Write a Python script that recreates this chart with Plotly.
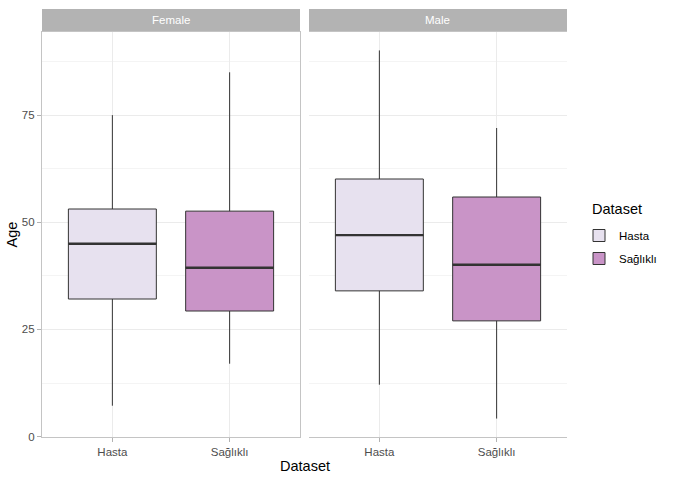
import plotly.graph_objects as go

# ---- data ----
groups = ["Hasta", "Sağlıklı"]
facets = ["Female", "Male"]
female_lower = [7.2, 17.0]
female_q1 = [32.1, 29.3]
female_median = [45.0, 39.4]
female_q3 = [53.1, 52.6]
female_upper = [75.0, 85.0]
male_lower = [12.1, 4.2]
male_q1 = [34.0, 27.0]
male_median = [47.0, 40.1]
male_q3 = [60.1, 55.9]
male_upper = [90.1, 72.0]
y_ticks = [0, 25, 50, 75]

colors = {"Hasta": "#E7E1EF", "Sağlıklı": "#C994C7"}
outline = "#333333"
FONT = "Liberation Sans, Arial, sans-serif"
BOXW = 0.75

facet_data = {
    "Female": (female_lower, female_q1, female_median, female_q3, female_upper),
    "Male": (male_lower, male_q1, male_median, male_q3, male_upper),
}

fig = go.Figure()
axes = [("x", "y"), ("x2", "y2")]
for fi, facet in enumerate(facets):
    lo, q1, med, q3, up = facet_data[facet]
    xa, ya = axes[fi]
    for gi, g in enumerate(groups):
        pos = gi + 1
        fig.add_trace(go.Box(
            x=[pos], q1=[q1[gi]], median=[med[gi]], q3=[q3[gi]],
            lowerfence=[lo[gi]], upperfence=[up[gi]],
            width=BOXW, whiskerwidth=0,
            fillcolor=colors[g], line=dict(color=outline, width=1),
            name=g, legendgroup=g, showlegend=(fi == 0),
            boxpoints=False, hoverinfo="skip",
            xaxis=xa, yaxis=ya,
        ))
        # thicker median line (ggplot fatten)
        fig.add_trace(go.Scatter(
            x=[pos - BOXW / 2, pos + BOXW / 2], y=[med[gi], med[gi]],
            mode="lines", line=dict(color=outline, width=2.4),
            showlegend=False, hoverinfo="skip", xaxis=xa, yaxis=ya,
        ))

W, H = 698, 482
ml, mr, mt, mb = 42, 131, 9, 45
pw = W - ml - mr
ph = H - mt - mb
strip_h = 23
ytop = 1 - strip_h / ph
gap = 9 / pw
d1 = [0, (1 - gap) / 2]
d2 = [(1 + gap) / 2, 1]

def px_y(py):
    """pixel row (from top) -> paper y"""
    return (H - mb - py) / ph

def px_x(px):
    return (px - ml) / pw

axis_common = dict(
    range=[0.4, 2.6], tickvals=[1, 2], ticktext=groups,
    showgrid=True, gridcolor="#EBEBEB", gridwidth=0.8,
    showline=True, mirror=True, linecolor="#C4C4C4", linewidth=1.2,
    ticks="outside", ticklen=4, tickcolor="#B3B3B3", tickwidth=1,
    tickfont=dict(family=FONT, size=11.5, color="#4D4D4D"),
    zeroline=False, fixedrange=True,
)
yaxis_common = dict(
    range=[-0.1, 94.4], tickvals=y_ticks,
    showgrid=True, gridcolor="#EBEBEB", gridwidth=0.8,
    minor=dict(dtick=12.5, tick0=0, showgrid=True, gridcolor="#F4F4F4", gridwidth=0.5),
    showline=True, mirror=True, linecolor="#C4C4C4", linewidth=1.2,
    tickcolor="#B3B3B3", tickwidth=1, ticklen=4,
    tickfont=dict(family=FONT, size=11.5, color="#4D4D4D"),
    zeroline=False, fixedrange=True, domain=[0, ytop],
)

fig.update_layout(
    width=W, height=H,
    margin=dict(l=ml, r=mr, t=mt, b=mb, autoexpand=False),
    paper_bgcolor="white", plot_bgcolor="white",
    font=dict(family=FONT),
    xaxis=dict(domain=d1, **axis_common),
    xaxis2=dict(domain=d2, **axis_common),
    yaxis=dict(ticks="outside", **yaxis_common),
    yaxis2=dict(matches="y", showticklabels=False, ticks="", **yaxis_common),
    legend=dict(
        x=px_x(579), y=px_y(221), xanchor="left", yanchor="top",
        font=dict(family=FONT, size=11.5, color="black"),
        bgcolor="rgba(0,0,0,0)", tracegroupgap=4,
    ),
    showlegend=True,
)

shapes = []
annotations = []
for fi, facet in enumerate(facets):
    d = [d1, d2][fi]
    shapes.append(dict(type="rect", xref="paper", yref="paper",
                       x0=d[0], x1=d[1], y0=ytop, y1=1,
                       fillcolor="#B3B3B3", line=dict(width=0), layer="below"))
    annotations.append(dict(text=facet, xref="paper", yref="paper",
                            x=(d[0] + d[1]) / 2, y=(1 + ytop) / 2,
                            showarrow=False, xanchor="center", yanchor="middle",
                            font=dict(family=FONT, size=11.5, color="white")))
annotations.append(dict(text="Dataset", xref="paper", yref="paper",
                        x=px_x(590), y=px_y(209), showarrow=False,
                        xanchor="left", yanchor="middle",
                        font=dict(family=FONT, size=14.5, color="black")))
annotations.append(dict(text="Dataset", xref="paper", yref="paper",
                        x=0.5, y=px_y(466), showarrow=False, yanchor="middle",
                        font=dict(family=FONT, size=14.5, color="black")))
annotations.append(dict(text="Age", xref="paper", yref="paper",
                        x=px_x(12), y=ytop / 2, showarrow=False, textangle=-90,
                        xanchor="center", yanchor="middle",
                        font=dict(family=FONT, size=14.5, color="black")))
fig.update_layout(shapes=shapes, annotations=annotations)

fig.write_html("out.html", config={"displayModeBar": False},
               post_script="document.body.style.margin='0';")
